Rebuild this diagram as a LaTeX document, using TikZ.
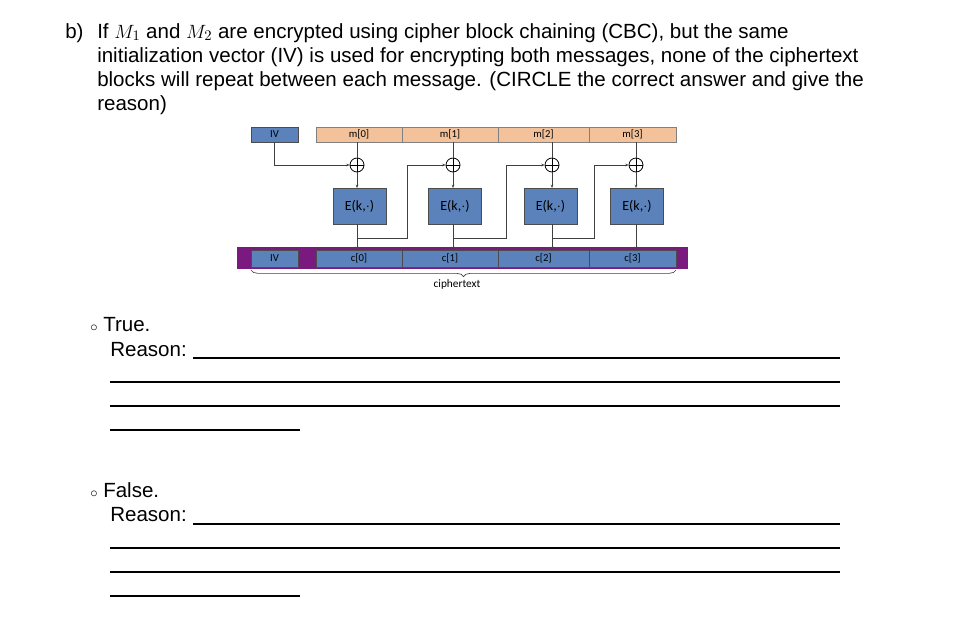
\documentclass[tikz,border=0pt]{standalone}
\usepackage{fontspec}
\setmainfont{Liberation Sans}
\newfontfamily\calfnt{Carlito}
\usetikzlibrary{decorations.pathreplacing,arrows.meta}
\definecolor{blk}{HTML}{5B82BA}
\definecolor{msg}{HTML}{F3C29A}
\definecolor{purp}{HTML}{7B1A7E}
\begin{document}
\begin{tikzpicture}[x=0.75pt,y=-0.75pt,
  txt/.style={anchor=base west,inner sep=0,font=\fontsize{15.4pt}{18pt}\selectfont},
  bl/.style={draw=black!70,fill=blk,line width=0.5pt,inner sep=0,font=\calfnt\fontsize{8pt}{9pt}\selectfont},
  ms/.style={draw=black!50,fill=msg,line width=0.5pt,inner sep=0,font=\calfnt\fontsize{8pt}{9pt}\selectfont},
  eb/.style={draw=black!70,fill=blk,line width=0.5pt,inner sep=0,minimum width=53*0.75pt,minimum height=36*0.75pt,font=\calfnt\fontsize{10.5pt}{12pt}\selectfont},
  xo/.style={draw,circle,minimum size=14*0.75pt,inner sep=0,line width=0.6pt},
  ln/.style={line width=0.5pt,draw=black!75},
  ar/.style={ln,-{Stealth[length=2.5pt,width=2pt]}},
  rl/.style={line width=0.8pt}]
\useasboundingbox (0,0) rectangle (956,622);
% question
\node[txt] (q0) at (65,38) {b)};
\node[txt] (q1) at (97,38) {If $M_1$ and $M_2$ are encrypted using cipher block chaining (CBC), but the same};
\node[txt] (q2) at (97,62) {initialization vector (IV) is used for encrypting both messages, none of the ciphertext};
\node[txt] (q3) at (97,86) {blocks will repeat between each message. (CIRCLE the correct answer and give the};
\node[txt] (q4) at (97,110) {reason)};
% diagram
\fill[purp] (237,247) rectangle (688,269);
\node[bl,minimum width=47*0.75pt,minimum height=15*0.75pt] (iv) at (274.5,134.5) {IV};
\node[bl,minimum width=47*0.75pt,minimum height=17*0.75pt] (civ) at (274.5,258.5) {IV};
\foreach \i/\a/\b in {0/316/402,1/402/498,2/498/589,3/589/676}{
  \node[ms,minimum width={(\b-\a)*0.75pt},minimum height=15*0.75pt] (m\i) at ({(\a+\b)/2},134.5) {m[\i]};
  \node[bl,minimum width={(\b-\a)*0.75pt},minimum height=17*0.75pt] (c\i) at ({(\a+\b)/2},258.5) {c[\i]};
}
\foreach \i/\x/\ex in {0/357/359.5,1/453/455,2/552/550.5,3/636/637}{
  \node[xo] (x\i) at (\x,165) {};
  \draw[line width=0.6pt] (x\i.north)--(x\i.south) (x\i.west)--(x\i.east);
  \node[eb] (e\i) at (\ex,206) {E(k,$\cdot$)};
  \draw[ln] (\x,142) -- (x\i.north);
  \draw[ar] (x\i.south) -- (\x,188);
  \draw[ar] (\x,224) -- (\x,250);
}
\draw[ar] (iv.south) |- (x0.west);
\foreach \i/\j/\x/\k in {0/1/407/357,1/2/506/453,2/3/594/552}{
  \draw[ar] (\k,238) -| (\x,165) -- (x\j.west);
}
\draw[ln,decorate,decoration={brace,mirror,amplitude=5pt}] (251,270) -- (676,270);
\node[inner sep=0,font=\calfnt\fontsize{8.5pt}{9pt}\selectfont] (ct) at (457,284) {ciphertext};
% answers
\node[txt] (t1) at (90,331) {${\scriptstyle\circ}$ True.};
\node[txt] (t2) at (110,356) {Reason:};
\draw[rl] (193,358)--(840,358) (110,382)--(840,382) (110,406)--(840,406) (110,430)--(300,430);
\node[txt] (f1) at (90,497) {${\scriptstyle\circ}$ False.};
\node[txt] (f2) at (110,521) {Reason:};
\draw[rl] (193,524)--(840,524) (110,548)--(840,548) (110,572)--(840,572) (110,596)--(300,596);
\end{tikzpicture}
\end{document}
